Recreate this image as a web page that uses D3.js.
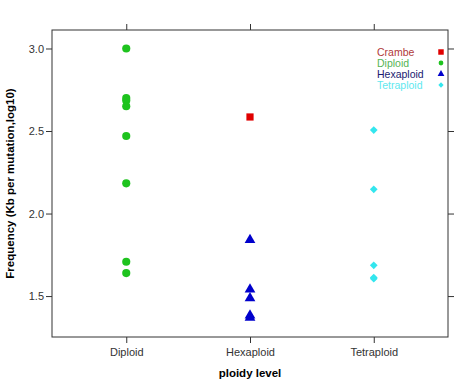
<!DOCTYPE html>
<html>
<head>
<meta charset="utf-8">
<script src="https://cdn.jsdelivr.net/npm/d3@7"></script>
<style>
  body { margin: 0; background: white; }
  text { font-family: "Liberation Sans", Arial, sans-serif; }
</style>
</head>
<body>
<div id="chart"></div>
<script>
// chart size
const width = 474;
const height = 387;

// categories on the x axis
const levels = ["Diploid", "Hexaploid", "Tetraploid"];

// series values (log10 Kb per mutation)
const crambeVals = [2.585];
const diploidVals = [3.0, 2.70, 2.685, 2.65, 2.47, 2.183, 1.708, 1.639];
const hexaploidVals = [1.84, 1.54, 1.487, 1.383, 1.37];
const tetraploidVals = [2.506, 2.147, 1.686, 1.612, 1.605];

const yTicks = [1.5, 2.0, 2.5, 3.0];

// rotated square, like lattice's filled diamond
const symbolRhomb = {
  draw(context, size) {
    const r = Math.sqrt(size / 2);
    context.moveTo(0, -r);
    context.lineTo(r, 0);
    context.lineTo(0, r);
    context.lineTo(-r, 0);
    context.closePath();
  }
};

const groups = [
  { name: "Crambe", level: "Hexaploid", values: crambeVals, color: "#e00000", text: "#b03a3a", shape: d3.symbolSquare, size: 52, lsize: 30 },
  { name: "Diploid", level: "Diploid", values: diploidVals, color: "#1ec31e", text: "#55b455", shape: d3.symbolCircle, size: 52, lsize: 18 },
  { name: "Hexaploid", level: "Hexaploid", values: hexaploidVals, color: "#0000cc", text: "#1a1a70", shape: d3.symbolTriangle, size: 50, lsize: 20 },
  { name: "Tetraploid", level: "Tetraploid", values: tetraploidVals, color: "#33e6ee", text: "#5fe8ef", shape: symbolRhomb, size: 30, lsize: 14 }
];

const margin = { left: 52, right: 26, top: 30, bottom: 50 };

const x = d3.scaleLinear().domain([0.4, 3.6]).range([margin.left, width - margin.right]);
const y = d3.scaleLinear().domain([1.252, 3.112]).range([height - margin.bottom, margin.top]);

const svg = d3.select("#chart").append("svg").attr("width", width).attr("height", height);

// panel box
svg.append("rect")
  .attr("x", margin.left).attr("y", margin.top)
  .attr("width", width - margin.left - margin.right)
  .attr("height", height - margin.top - margin.bottom)
  .attr("fill", "none").attr("stroke", "#333").attr("stroke-width", 1);

const xPos = d => x(levels.indexOf(d) + 1);

// left axis with labels, right axis with ticks only
const axLeft = svg.append("g").attr("transform", `translate(${margin.left},0)`)
  .call(d3.axisLeft(y).tickValues(yTicks).tickFormat(d3.format(".1f")).tickSize(6).tickSizeOuter(0));
const axRight = svg.append("g").attr("transform", `translate(${width - margin.right},0)`)
  .call(d3.axisRight(y).tickValues(yTicks).tickFormat("").tickSize(6).tickSizeOuter(0));

// bottom axis with labels, top axis ticks only
const axBottom = svg.append("g").attr("transform", `translate(0,${height - margin.bottom})`)
  .call(d3.axisBottom(x).tickValues([1, 2, 3]).tickFormat(d => levels[d - 1]).tickSize(6).tickSizeOuter(0));
const axTop = svg.append("g").attr("transform", `translate(0,${margin.top})`)
  .call(d3.axisTop(x).tickValues([1, 2, 3]).tickFormat("").tickSize(6).tickSizeOuter(0));

[axLeft, axRight, axBottom, axTop].forEach(g => {
  g.select(".domain").remove();
  g.selectAll(".tick line").attr("stroke", "#333");
  g.selectAll(".tick text").attr("fill", "#333").style("font-size", "11px");
});
axLeft.selectAll(".tick text").attr("x", -8);
axBottom.selectAll(".tick text").attr("y", 11);

// axis titles
svg.append("text")
  .attr("x", x(2)).attr("y", 377)
  .attr("text-anchor", "middle")
  .style("font-size", "11.5px").style("font-weight", "bold")
  .text("ploidy level");

svg.append("text")
  .attr("transform", `translate(14,${(margin.top + height - margin.bottom) / 2}) rotate(-90)`)
  .attr("text-anchor", "middle")
  .style("font-size", "11.5px").style("font-weight", "bold")
  .text("Frequency (Kb per mutation,log10)");

// points
groups.forEach(g => {
  svg.append("g").selectAll("path")
    .data(g.values)
    .enter().append("path")
    .attr("d", d3.symbol().type(g.shape).size(g.size))
    .attr("transform", d => `translate(${xPos(g.level)},${y(d)})`)
    .attr("fill", g.color);
});

// legend
const legend = svg.append("g");
groups.forEach((g, i) => {
  const ly = 52 + i * 11;
  legend.append("text")
    .attr("x", 377).attr("y", ly + 3.5)
    .attr("fill", g.text)
    .style("font-size", "10.5px")
    .text(g.name);
  legend.append("path")
    .attr("d", d3.symbol().type(g.shape).size(g.lsize))
    .attr("transform", `translate(441,${ly})`)
    .attr("fill", g.color);
});
</script>
</body>
</html>
